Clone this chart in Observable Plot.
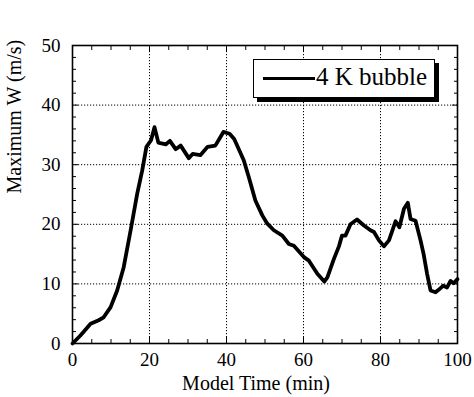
<!DOCTYPE html>
<html>
<head>
<meta charset="utf-8">
<script src="https://cdn.jsdelivr.net/npm/d3@7"></script>
<script src="https://cdn.jsdelivr.net/npm/@observablehq/plot@0.6"></script>
<style>
  html, body { margin: 0; padding: 0; background: #fff; }
  #wrap { position: relative; width: 474px; height: 397px; }
  #wrap svg, #wrap svg text { font-family: "Liberation Serif", "Times New Roman", serif !important; }
  #legend { position: absolute; left: 253px; top: 59px; width: 182px; height: 39px; box-sizing: border-box;
            border: 1.5px solid #000; box-shadow: 4px 4px 0 #000; background: #fff; }
  #legend .swatch { position: absolute; left: 9px; top: 17px; width: 52px; height: 3px; background: #000; }
  #legend .label { position: absolute; left: 62px; top: 4px; font-family: "Liberation Serif", "Times New Roman", serif; font-size: 25px; line-height: 1; color: #000; white-space: nowrap; }
</style>
</head>
<body>
<div id="wrap"></div>
<script>
// Data
const seriesName = "4 K bubble";
const times = [0, 2, 4.7, 6.8, 8.1, 9.9, 11.6, 13.3, 15.1, 16.8, 18.1, 19.2, 20.4, 21.3, 22.3, 24.2, 25.3, 26.8, 28.1, 30.2,
  31.2, 33.2, 35.1, 37.1, 39.2, 40.8, 42.0, 43.2, 44.5, 45.8, 47.5, 49.3, 50.6, 52.3, 54.5, 56.2, 57.5, 60.1, 61.4, 63.6,
  65.4, 66.2, 67.9, 69.2, 70.0, 70.9, 72.2, 73.9, 75.7, 77.4, 78.3, 79.6, 80.9, 82.2, 83.9, 84.9, 86.1, 87.1, 87.8, 89.1,
  90.4, 91.2, 92.1, 93.0, 94.3, 95.1, 96.3, 97.3, 98.2, 99.0, 100];
const wmax = [0, 1.3, 3.3, 3.9, 4.4, 6.1, 8.9, 12.8, 19.0, 25.1, 29.0, 33.0, 34.1, 36.3, 33.7, 33.4, 34.0, 32.6, 33.2, 31.1,
  31.8, 31.6, 33.0, 33.2, 35.5, 35.2, 34.3, 32.6, 30.7, 27.9, 24.0, 21.5, 20.1, 19.0, 18.1, 16.7, 16.4, 14.5, 13.9, 11.7,
  10.4, 11.1, 14.2, 16.3, 18.1, 18.1, 20.0, 20.8, 19.8, 19.0, 18.7, 17.3, 16.3, 17.3, 20.5, 19.5, 22.6, 23.6, 20.9, 20.6,
  17.3, 15.0, 11.7, 8.9, 8.6, 9.0, 9.7, 9.4, 10.5, 10.1, 10.8];
const xMajor = [0, 20, 40, 60, 80, 100];
const xMinor = [5, 10, 15, 25, 30, 35, 45, 50, 55, 65, 70, 75, 85, 90, 95];
const yMajor = [0, 10, 20, 30, 40, 50];
const yMinor = [2, 4, 6, 8, 12, 14, 16, 18, 22, 24, 26, 28, 32, 34, 36, 38, 42, 44, 46, 48];
const xGrid = [20, 40, 60, 80];
const yGrid = [10, 20, 30, 40];
const xLabel = "Model Time (min)";
const yLabel = "Maximum W (m/s)";

const data = times.map((t, i) => ({t, w: wmax[i]}));
const noText = () => "";

const chart = Plot.plot({
  width: 474,
  height: 397,
  marginLeft: 72,
  marginRight: 17,
  marginTop: 45,
  marginBottom: 54,
  style: {fontFamily: '"Liberation Serif", serif', fontSize: "18px", background: "#fff", color: "#000", overflow: "visible"},
  x: {domain: [0, 100]},
  y: {domain: [0, 50]},
  marks: [
    Plot.ruleX(xGrid, {stroke: "#000", strokeWidth: 1, strokeDasharray: "1.2,1.8"}),
    Plot.ruleY(yGrid, {stroke: "#000", strokeWidth: 1, strokeDasharray: "1.2,1.8"}),
    // inward ticks on all four sides
    Plot.axisX({anchor: "bottom", ticks: xMajor, tickSize: -6, tickFormat: noText, label: null}),
    Plot.axisX({anchor: "top", ticks: xMajor, tickSize: -6, tickFormat: noText, label: null}),
    Plot.axisX({anchor: "bottom", ticks: xMinor, tickSize: -4, tickFormat: noText, label: null}),
    Plot.axisX({anchor: "top", ticks: xMinor, tickSize: -4, tickFormat: noText, label: null}),
    Plot.axisY({anchor: "left", ticks: yMajor, tickSize: -6, tickFormat: noText, label: null}),
    Plot.axisY({anchor: "right", ticks: yMajor, tickSize: -6, tickFormat: noText, label: null}),
    Plot.axisY({anchor: "left", ticks: yMinor, tickSize: -4, tickFormat: noText, label: null}),
    Plot.axisY({anchor: "right", ticks: yMinor, tickSize: -4, tickFormat: noText, label: null}),
    // tick labels
    Plot.axisX({anchor: "bottom", ticks: xMajor, tickSize: 0, tickPadding: 9, label: null, fontSize: 19, fontVariant: "normal"}),
    Plot.axisY({anchor: "left", ticks: yMajor, tickSize: 0, tickPadding: 12, label: null, fontSize: 19, fontVariant: "normal"}),
    Plot.frame({stroke: "#000", strokeWidth: 1.6}),
    Plot.line(data, {x: "t", y: "w", stroke: "#000", strokeWidth: 3.8, strokeLinejoin: "round", strokeLinecap: "round"}),
    Plot.text([xLabel], {frameAnchor: "bottom", dx: -9, dy: 46, lineAnchor: "bottom", fontSize: 20, text: d => d}),
    Plot.text([yLabel], {frameAnchor: "left", dx: -58, dy: -1, rotate: -90, lineAnchor: "middle", fontSize: 20, text: d => d})
  ]
});

const wrap = document.getElementById("wrap");
wrap.appendChild(chart);
const legend = document.createElement("div");
legend.id = "legend";
legend.innerHTML = `<div class="swatch"></div><span class="label">${seriesName}</span>`;
wrap.appendChild(legend);
</script>
</body>
</html>
